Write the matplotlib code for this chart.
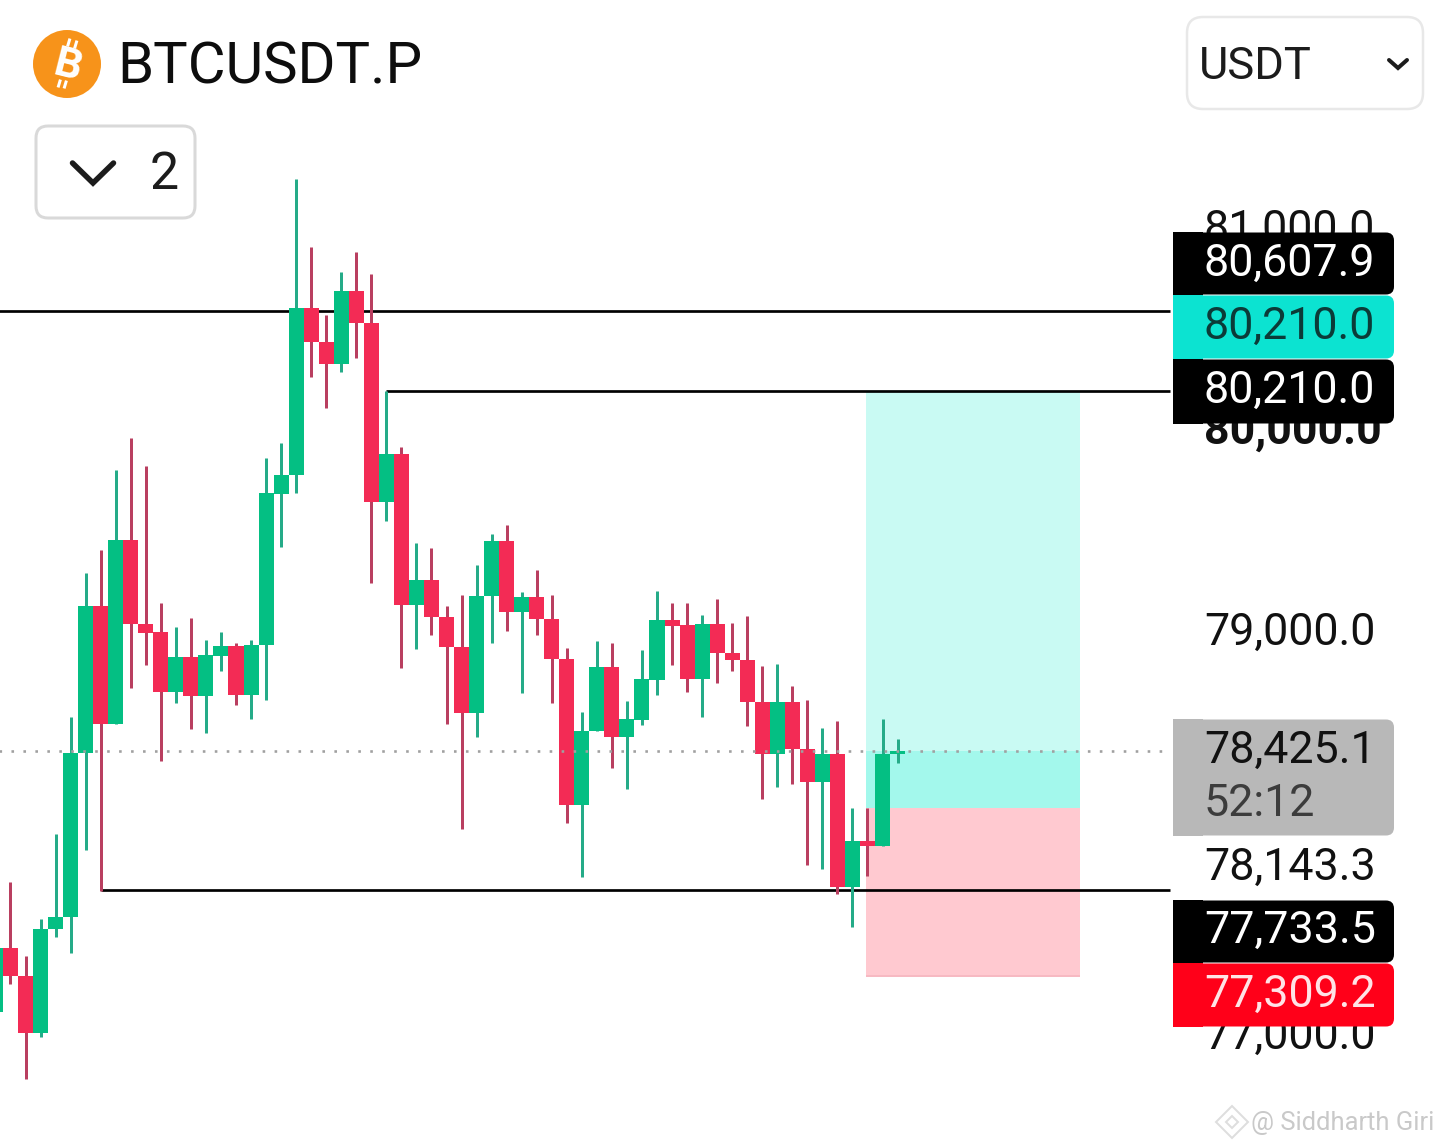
"""
BTCUSDT.P phone chart screenshot redone in matplotlib
"""
import numpy as np
import matplotlib.pyplot as plt
from matplotlib.patches import FancyBboxPatch, Rectangle, Circle

plt.rcParams['font.family'] = ['Roboto', 'DejaVu Sans']

# candles, first one is cut by the left edge
first_bar = -1
opens = [77131, 77447, 77310, 77025, 77543, 77601, 78414, 79144, 78558, 79471,
         79055, 79015, 78716, 78893, 78699, 78898, 78946, 78704, 78949, 79701,
         79794, 80620, 80451, 80345, 80707, 80546, 79661, 79898, 79151, 79273,
         79088, 78939, 78614, 79194, 79466, 79113, 79187, 79078, 78880, 78156,
         78524, 78843, 78493, 78580, 78779, 79075, 79050, 78784, 79055, 78910,
         78876, 78670, 78409, 78670, 78435, 78273, 78410, 77749, 77979, 77956,
         78410]
highs = [77448, 77777, 77409, 77592, 78014, 78595, 79309, 79422, 79818, 79978,
         79838, 79160, 79041, 79083, 78975, 79015, 78959, 78975, 79876, 79951,
         81261, 80922, 80587, 80798, 80898, 80790, 80210, 79934, 79458, 79432,
         79144, 79199, 79347, 79501, 79546, 79213, 79323, 79199, 78936, 78619,
         78972, 78962, 78675, 78926, 79220, 79160, 79160, 79101, 79180, 79061,
         79094, 78848, 78856, 78747, 78678, 78538, 78575, 78141, 78141, 78582,
         78485]
lows = [77131, 77268, 76800, 77006, 77501, 77425, 77934, 77733, 78558, 78736,
        78850, 78374, 78662, 78533, 78513, 78823, 78655, 78582, 78676, 79438,
        79706, 80278, 80127, 80303, 80374, 79260, 79567, 78835, 78932, 79002,
        78558, 78040, 78496, 78962, 79022, 78711, 79002, 78665, 78070, 77802,
        78524, 78342, 78238, 78556, 78704, 78853, 78719, 78592, 78764, 78823,
        78551, 78189, 78248, 78263, 77861, 77839, 77715, 77554, 77807, 77956,
        78364]
closes = [77448, 77310, 77025, 77543, 77604, 78417, 79144, 78558, 79471, 79055,
          79012, 78716, 78893, 78699, 78901, 78946, 78704, 78951, 79706, 79794,
          80620, 80451, 80345, 80707, 80546, 79661, 79898, 79151, 79273, 79088,
          78939, 78614, 79194, 79466, 79113, 79187, 79078, 78880, 78156, 78524,
          78843, 78493, 78584, 78782, 79075, 79046, 78784, 79055, 78910, 78876,
          78670, 78409, 78670, 78435, 78273, 78410, 77749, 77979, 77956, 78410,
          78427]

# price levels
upper_level = 80607.9
tp_price = 80210.0
last_price = 78425.1
entry_price = 78143.3
lower_level = 77733.5
sl_price = 77309.2

# which bar the levels start on and where the position box sits
upper_start = -1
tp_line_start = 25
lower_start = 6
box_start = 56.9
box_end = 71.14

axis_ticks = [81000, 79000, 77000]
axis_tick_labels = ["81,000.0", "79,000.0", "77,000.0"]
bold_tick = 80000
bold_tick_label = "80,000.0"

symbol = "BTCUSDT.P"
quote = "USDT"
indicator_count = "2"
countdown = "52:12"
watermark = "@ Siddharth Giri"

GREEN = "#04bf83"
RED = "#f32b55"
GREEN_WICK = "#25ab88"
RED_WICK = "#b93f60"

W, H = 1440, 1146
LABEL_X = 1204
font_px = 44.8


def px(n):
    # font sizes and line widths in pixels -> points
    return n * 72 / 100


def draw_candles(ax):
    bars = first_bar + np.arange(len(opens))
    o, h, l, c = map(np.array, (opens, highs, lows, closes))
    up = c >= o
    ax.vlines(bars[up], l[up], h[up], color=GREEN_WICK, lw=px(3), zorder=4)
    ax.vlines(bars[~up], l[~up], h[~up], color=RED_WICK, lw=px(3), zorder=4)
    body_bottom = np.minimum(o, c)
    body_height = np.abs(c - o)
    ax.bar(bars[up], body_height[up], bottom=body_bottom[up], width=1.0, color=GREEN, zorder=5)
    ax.bar(bars[~up], body_height[~up], bottom=body_bottom[~up], width=1.0, color=RED, zorder=5)


def draw_levels(ax, line_end):
    for start, price in [(upper_start, upper_level), (tp_line_start, tp_price), (lower_start, lower_level)]:
        ax.hlines(price, start, line_end, color="black", lw=px(2.7), zorder=3)
    ax.hlines(last_price, -1, line_end, color="#a0a0a0", lw=px(2.6),
              linestyles=(0, (1, 3.6)), zorder=6)

    # long position box
    ax.add_patch(Rectangle((box_start, entry_price), box_end - box_start, tp_price - entry_price,
                           color="#c9faf3", lw=0, zorder=1))
    ax.add_patch(Rectangle((box_start, entry_price), box_end - box_start, last_price - entry_price,
                           color="#a3f8ec", lw=0, zorder=1.5))
    ax.add_patch(Rectangle((box_start, sl_price), box_end - box_start, entry_price - sl_price,
                           facecolor="#ffc9d0", edgecolor="#ffc9d0", lw=0, zorder=1))
    ax.hlines(sl_price, box_start, box_end, color="#f7b9c2", lw=px(2), zorder=1.5)


def price_tag(ui, y0, y1, color, zorder=8):
    # square on the left, rounded on the right
    ui.add_patch(FancyBboxPatch((1190, y0 + 0.5), 204, y1 - y0 - 1, boxstyle="round,pad=0,rounding_size=8",
                                fc=color, ec="none", zorder=zorder, mutation_aspect=1))
    ui.add_patch(Rectangle((1173, y0), 30, y1 - y0, fc=color, ec="none", zorder=zorder))


def chevron(ui, x, y, half_w, half_h, lw, color="#1c1c1c"):
    ui.plot([x - half_w, x, x + half_w], [y - half_h, y + half_h, y - half_h], color=color,
            lw=px(lw), solid_capstyle="round", solid_joinstyle="miter", zorder=9)


def draw_ui(ax, ui):
    # header
    ui.add_patch(Circle((67, 64), 34, fc="#f7931a", ec="none", zorder=9))
    ui.text(67, 66, "B", color="white", fontsize=px(43), fontweight="bold", rotation=-14,
            ha="center", va="center", zorder=10)
    for xt, yt in [(68, 45), (75, 47)]:
        ui.plot([xt, xt + 1.5], [yt, yt - 5], color="white", lw=px(3), zorder=10)
    for xt, yt in [(60, 84), (66, 85)]:
        ui.plot([xt, xt - 1.5], [yt - 3, yt + 2], color="white", lw=px(3), zorder=10)
    ui.text(117, 68, symbol, fontsize=px(58), color="#0d0d0d", va="center", ha="left", zorder=9)

    ui.add_patch(FancyBboxPatch((1187, 17), 236, 92, boxstyle="round,pad=0,rounding_size=16",
                                fc="white", ec="#e8e8e8", lw=px(2.5), zorder=7))
    ui.text(1199, 67, quote, fontsize=px(45.3), color="#1c1c1c", va="center", ha="left", zorder=9)
    chevron(ui, 1398, 64, 9, 4, 4)

    ui.add_patch(FancyBboxPatch((36, 126), 159, 92, boxstyle="round,pad=0,rounding_size=12",
                                fc="white", ec="#d9d9d9", lw=px(3), zorder=7))
    chevron(ui, 93, 173, 20.5, 10, 5.5)
    ui.text(164, 175, indicator_count, fontsize=px(52), color="#1c1c1c", va="center", ha="center", zorder=9)

    # price scale, these sit under the tags
    shift = px(2)
    for price, label in zip(axis_ticks, axis_tick_labels):
        ax.annotate(label, xy=(LABEL_X / W, price), xycoords=ax.get_yaxis_transform(),
                    xytext=(0, shift), textcoords="offset points", fontsize=px(font_px),
                    va="center", ha="left", color="#111111", zorder=7, annotation_clip=False)
    ax.annotate(bold_tick_label, xy=(LABEL_X / W, bold_tick), xycoords=ax.get_yaxis_transform(),
                xytext=(0, shift), textcoords="offset points", fontsize=px(font_px), fontweight="bold",
                va="center", ha="left", color="#111111", zorder=7)

    # tags get pushed apart by the app so they do not sit on their price
    tags = [
        (232, 295, "black", f"{upper_level:,.1f}", "white", 264),
        (295, 359, "#0ce3d1", f"{tp_price:,.1f}", "#0b3b38", 327),
        (359, 424, "black", f"{tp_price:,.1f}", "white", 391),
        (900, 963, "black", f"{lower_level:,.1f}", "white", 931),
        (963, 1027, "#ff0019", f"{sl_price:,.1f}", "#ffe3e6", 995),
    ]
    for y0, y1, fc, label, tc, yt in tags:
        price_tag(ui, y0, y1, fc)
        ui.text(LABEL_X, yt, label, fontsize=px(font_px), color=tc, va="center", ha="left", zorder=9)

    price_tag(ui, 719, 836, "#b8b8b8")
    ui.text(LABEL_X, 751, f"{last_price:,.1f}", fontsize=px(font_px), color="#111111", va="center", ha="left", zorder=9)
    ui.text(LABEL_X, 804, countdown, fontsize=px(font_px), color="#3c3c3c", va="center", ha="left", zorder=9)
    ui.text(LABEL_X, 868, f"{entry_price:,.1f}", fontsize=px(font_px), color="#111111", va="center", ha="left", zorder=9)

    # watermark
    ui.plot([1232], [1122], marker="D", ms=px(22), mfc="none", mec="#dedede", mew=px(2), zorder=9)
    ui.plot([1232], [1122], marker="D", ms=px(9), mfc="none", mec="#dedede", mew=px(2), zorder=9)
    ui.text(1251, 1123, watermark, fontsize=px(25.5), color="#c9c9c9", va="center", ha="left", zorder=9)


def main():
    fig = plt.figure(figsize=(W / 100, H / 100), dpi=100, facecolor="white")
    ax = fig.add_axes([0, 0, 1, 1])
    ax.set_xlim(-0.698, 95.08)
    ax.set_ylim(76466.7, 82148.6)
    ax.axis("off")

    ui = fig.add_axes([0, 0, 1, 1], zorder=5)
    ui.set_xlim(0, W)
    ui.set_ylim(H, 0)
    ui.axis("off")
    ui.patch.set_alpha(0)

    line_end = (1170 - 10.5) / 15.034
    draw_levels(ax, line_end)
    draw_candles(ax)
    draw_ui(ax, ui)

    fig.savefig("out.png", dpi=100)


if __name__ == '__main__':
    main()
